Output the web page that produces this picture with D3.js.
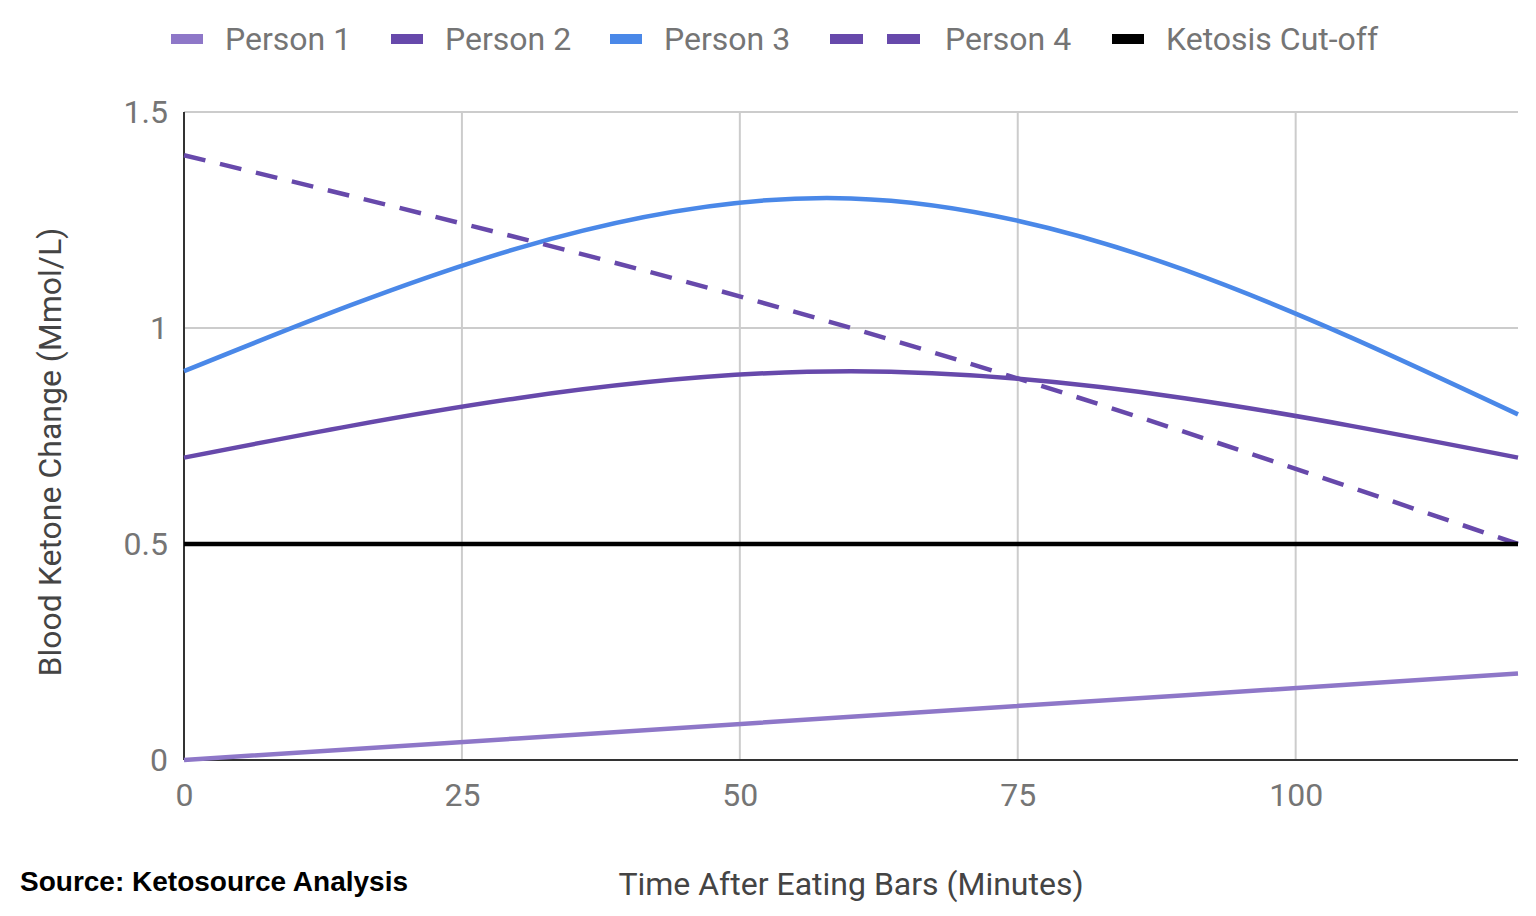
<!DOCTYPE html>
<html lang="en">
<head>
  <meta charset="UTF-8">
  <title>Blood ketone change</title>
  <script src="https://d3js.org/d3.v7.min.js"></script>
  <style>
    body { margin: 0; background: #fff; }
    text { font-family: Roboto, "Noto Sans", sans-serif; }
    .tick text { fill: #757575; font-size: 32px; }
    .grid line { stroke: #ccc; stroke-width: 2px; }
    .line { fill: none; stroke-width: 4.5px; }
    .legend text { fill: #757575; font-size: 32px; }
    .title { fill: #444; font-size: 32px; }
    .source { font-family: "Liberation Sans", Arial, sans-serif; font-weight: bold; font-size: 28px; fill: #000; }
  </style>
</head>
<body>
  <svg width="1536" height="916"></svg>
  <script>
    // data
    var minutes = [0, 60, 120];
    var person1 = [0, 0.1, 0.2];
    var person2 = [0.7, 0.9, 0.7];
    var person3 = [0.9, 1.3, 0.8];
    var person4 = [1.4, 1.0, 0.5];
    var cutoff = [0.5, 0.5, 0.5];
    var xTicks = [0, 25, 50, 75, 100];
    var yTicks = [0, 0.5, 1, 1.5];

    var series = [
      {name: "Person 1", values: person1, color: "#8e77c8", dash: null},
      {name: "Person 2", values: person2, color: "#6749ab", dash: null},
      {name: "Person 3", values: person3, color: "#4a88e8", dash: null},
      {name: "Person 4", values: person4, color: "#6749ab", dash: "22,15"},
      {name: "Ketosis Cut-off", values: cutoff, color: "#000", dash: null}
    ];

    var svg = d3.select("svg"),
        margin = {top: 112, right: 18, bottom: 156, left: 184},
        width = 1536 - margin.left - margin.right,
        height = 916 - margin.top - margin.bottom,
        g = svg.append("g").attr("transform", "translate(" + margin.left + "," + margin.top + ")");

    var x = d3.scaleLinear().domain([0, 120]).range([0, width]);
    var y = d3.scaleLinear().domain([0, 1.5]).range([height, 0]);

    // gridlines
    g.append("g").attr("class", "grid")
      .selectAll("line").data(xTicks.slice(1)).enter().append("line")
      .attr("x1", x).attr("x2", x).attr("y1", 0).attr("y2", height);
    g.append("g").attr("class", "grid")
      .selectAll("line").data(yTicks.slice(1)).enter().append("line")
      .attr("x1", 0).attr("x2", width).attr("y1", y).attr("y2", y);

    // axes
    var xAxis = g.append("g")
      .attr("transform", "translate(0," + height + ")")
      .call(d3.axisBottom(x).tickValues(xTicks).tickSize(0).tickPadding(23));
    xAxis.select(".domain").remove();

    var yAxis = g.append("g")
      .call(d3.axisLeft(y).tickValues(yTicks).tickSize(0).tickPadding(16).tickFormat(d3.format("")));
    yAxis.select(".domain").remove();

    g.append("line").attr("x1", 0).attr("x2", 0).attr("y1", 0).attr("y2", height)
      .attr("stroke", "#333").attr("stroke-width", 2);
    g.append("line").attr("x1", 0).attr("x2", width).attr("y1", height).attr("y2", height)
      .attr("stroke", "#333").attr("stroke-width", 2);

    // lines
    var line = d3.line()
      .x(function(d, i) { return x(minutes[i]); })
      .y(function(d) { return y(d); })
      .curve(d3.curveNatural);

    g.selectAll(".line").data(series).enter().append("path")
      .attr("class", "line")
      .attr("stroke", function(d) { return d.color; })
      .attr("stroke-dasharray", function(d) { return d.dash; })
      .attr("d", function(d) { return line(d.values); });

    // legend
    var legendX = [171, 391, 610, 830, 1112];
    var legend = svg.append("g").attr("class", "legend")
      .selectAll("g").data(series).enter().append("g")
      .attr("transform", function(d, i) { return "translate(" + legendX[i] + ",39)"; });
    legend.append("line")
      .attr("x1", 0).attr("x2", function(d) { return d.dash ? 90 : 32; })
      .attr("y1", 0).attr("y2", 0)
      .attr("stroke", function(d) { return d.color; })
      .attr("stroke-width", 10)
      .attr("stroke-dasharray", function(d) { return d.dash ? "33,24" : null; });
    legend.append("text")
      .attr("x", function(d) { return d.dash ? 115 : 54; })
      .attr("dy", "0.35em")
      .text(function(d) { return d.name; });

    // titles
    svg.append("text").attr("class", "title")
      .attr("x", margin.left + width / 2).attr("y", 895)
      .attr("text-anchor", "middle")
      .text("Time After Eating Bars (Minutes)");
    svg.append("text").attr("class", "title")
      .attr("transform", "translate(61,452) rotate(-90)")
      .attr("text-anchor", "middle")
      .text("Blood Ketone Change (Mmol/L)");
    svg.append("text").attr("class", "source")
      .attr("x", 20).attr("y", 891)
      .text("Source: Ketosource Analysis");
  </script>
</body>
</html>
